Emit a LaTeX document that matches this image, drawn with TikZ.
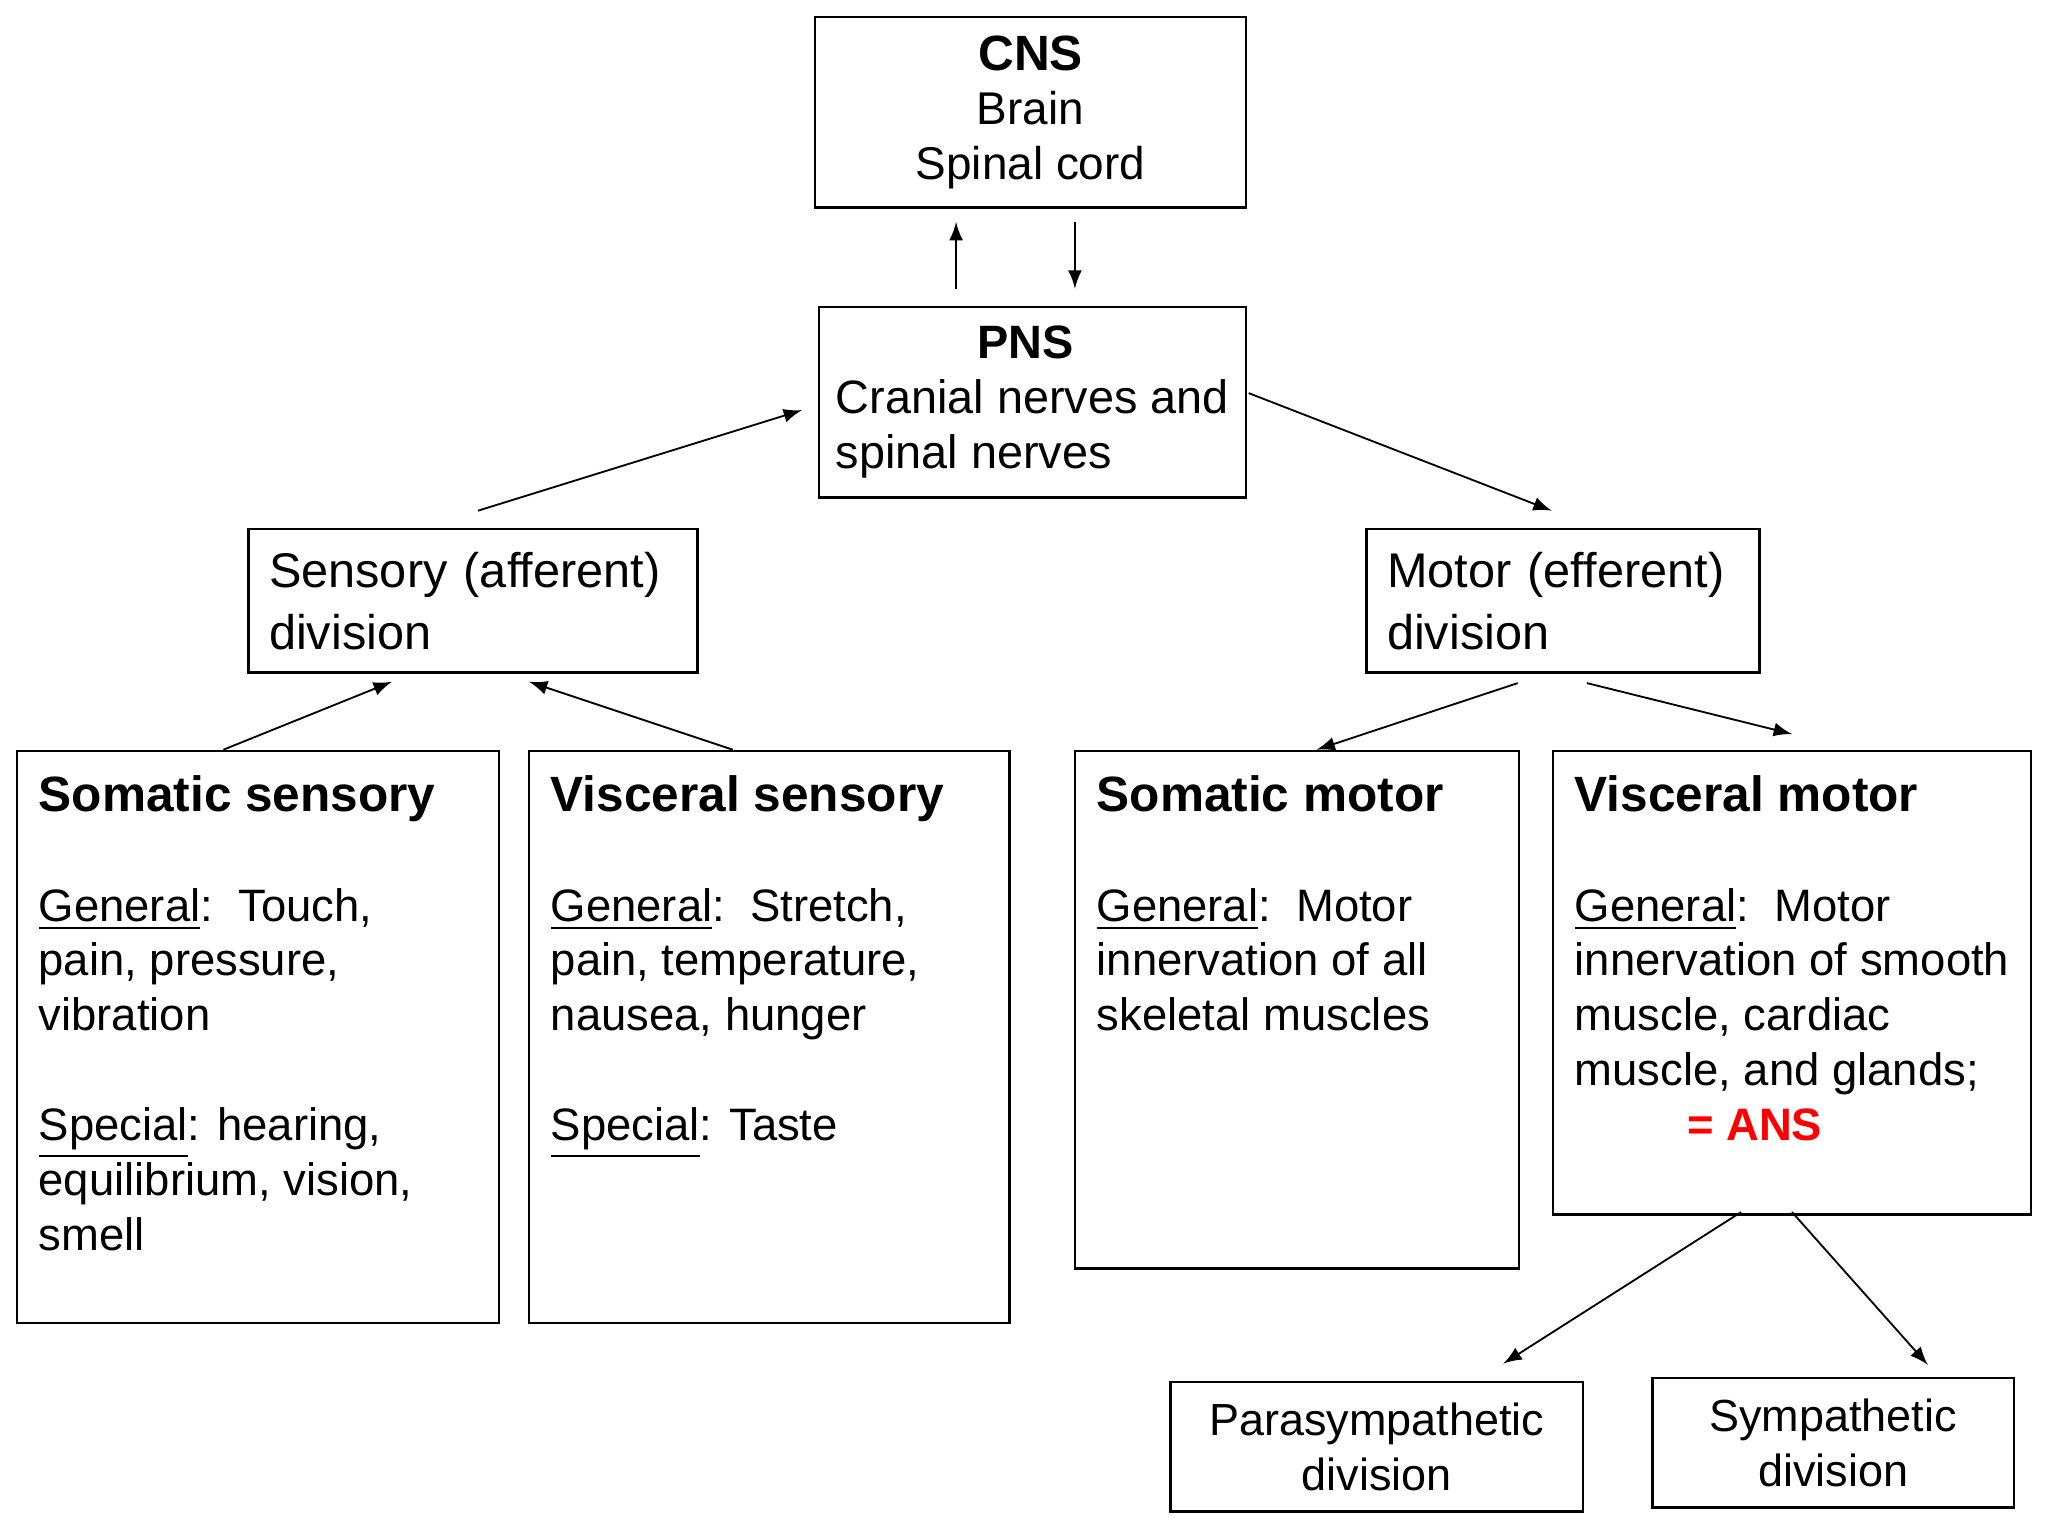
\documentclass[tikz,border=0pt]{standalone}
\usepackage{fontspec}
\setmainfont{Liberation Sans}
\usetikzlibrary{positioning, arrows}
\newcommand{\hd}[1]{{\fontsize{10.8}{12}\selectfont\bfseries #1}}
\tikzset{
  box/.style={draw, semithick, minimum width=#1, inner sep=0pt},
  txt/.style={inner sep=0pt, anchor=north west, align=left, font=\fontsize{9.9}{11.95}\selectfont},
  arr/.style={-latex, thin}
}
\begin{document}
\begin{tikzpicture}
	\useasboundingbox (0,0) rectangle (15.68,-11.76);
	% top level
	\node [box=3.30cm, minimum height=1.46cm, align=center, font=\fontsize{10}{11.95}\selectfont] (cns) at (7.89,-0.86)
	{\hd{CNS}\\Brain\\Spinal cord};
	\node [box=3.27cm, minimum height=1.46cm, align=left, font=\fontsize{10.2}{11.95}\selectfont] (pns) at (7.905,-3.08)
	{\makebox[2.9cm]{\bfseries PNS}\\Cranial nerves and\\spinal nerves};
	\node [box=3.44cm, minimum height=1.10cm, text width=3.12cm, align=left, font=\fontsize{10.6}{13.5}\selectfont] (sens) at (3.62,-4.60)
	{Sensory (afferent)\\division};
	\node [box=3.01cm, minimum height=1.10cm, text width=2.69cm, align=left, font=\fontsize{10.6}{13.5}\selectfont] (mot) at (11.965,-4.60)
	{Motor (efferent)\\division};
	% big boxes
	\node [box=3.69cm, minimum height=4.38cm] (ss) at (1.975,-7.94) {};
	\node [box=3.68cm, minimum height=4.38cm] (vs) at (5.89,-7.94) {};
	\node [box=3.40cm, minimum height=3.96cm] (sm) at (9.93,-7.73) {};
	\node [box=3.66cm, minimum height=3.55cm] (vm) at (13.72,-7.525) {};
	\node [txt] (ss text) at ([shift={(0.17,-0.19)}]ss.north west)
	{\hd{Somatic sensory}\\[11.95pt]\underline{General}:\ \ Touch,\\pain, pressure,\\vibration\\[11.95pt]\underline{Special}: hearing,\\equilibrium, vision,\\smell};
	\node [txt] (vs text) at ([shift={(0.17,-0.19)}]vs.north west)
	{\hd{Visceral sensory}\\[11.95pt]\underline{General}:\ \ Stretch,\\pain, temperature,\\nausea, hunger\\[11.95pt]\underline{Special}: Taste};
	\node [txt] (sm text) at ([shift={(0.17,-0.19)}]sm.north west)
	{\hd{Somatic motor}\\[11.95pt]\underline{General}:\ \ Motor\\innervation of all\\skeletal muscles};
	\node [txt] (vm text) at ([shift={(0.17,-0.19)}]vm.north west)
	{\hd{Visceral motor}\\[11.95pt]\underline{General}:\ \ Motor\\innervation of smooth\\muscle, cardiac\\muscle, and glands;\\\hspace*{0.86cm}\textcolor{red}{\bfseries = ANS}};
	% ANS divisions
	\node [box=3.16cm, minimum height=0.99cm, align=center, font=\fontsize{9.8}{11.95}\selectfont] (para) at (10.54,-11.075)
	{Parasympathetic\\division};
	\node [box=2.77cm, minimum height=0.99cm, align=center, font=\fontsize{9.8}{11.95}\selectfont] (symp) at (14.035,-11.045)
	{Sympathetic\\division};
	% connector ends
	\coordinate (up a) at (7.32,-2.21);   \coordinate (up b) at (7.32,-1.70);
	\coordinate (dn a) at (8.23,-1.70);   \coordinate (dn b) at (8.23,-2.21);
	\coordinate (s1) at (3.66,-3.91);     \coordinate (s2) at (6.14,-3.14);
	\coordinate (m1) at (9.56,-3.01);     \coordinate (m2) at (11.88,-3.91);
	\coordinate (ss1) at (1.71,-5.74);    \coordinate (ss2) at (3.00,-5.22);
	\coordinate (vs1) at (5.61,-5.74);    \coordinate (vs2) at (4.05,-5.22);
	\coordinate (sm1) at (11.62,-5.23);   \coordinate (sm2) at (10.08,-5.74);
	\coordinate (vm1) at (12.15,-5.23);   \coordinate (vm2) at (13.72,-5.62);
	\coordinate (pa1) at (13.33,-9.28);   \coordinate (pa2) at (11.51,-10.44);
	\coordinate (sy1) at (13.72,-9.28);   \coordinate (sy2) at (14.76,-10.45);
	\draw [arr] (up a) -- (up b);
	\draw [arr] (dn a) -- (dn b);
	\draw [arr] (s1) -- (s2);
	\draw [arr] (m1) -- (m2);
	\draw [arr] (ss1) -- (ss2);
	\draw [arr] (vs1) -- (vs2);
	\draw [arr] (sm1) -- (sm2);
	\draw [arr] (vm1) -- (vm2);
	\draw [arr] (pa1) -- (pa2);
	\draw [arr] (sy1) -- (sy2);
\end{tikzpicture}
\end{document}
